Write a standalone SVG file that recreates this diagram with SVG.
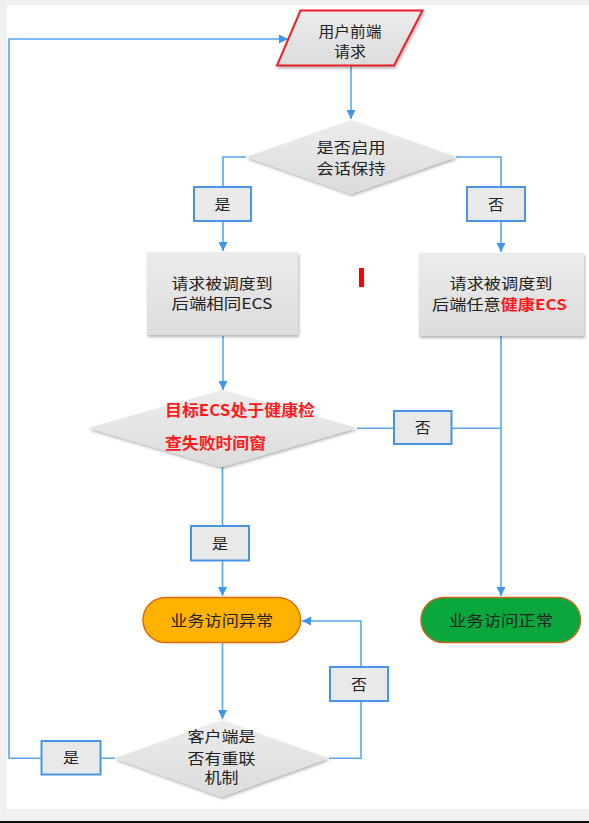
<svg xmlns="http://www.w3.org/2000/svg" width="589" height="823" viewBox="0 0 589 823">
<style>
.t{font-family:"Microsoft YaHei","Noto Sans CJK SC","Noto Sans",sans-serif;font-size:15px;fill:#222;text-anchor:middle}
.r{fill:#ff1a1a;font-weight:bold;text-anchor:start;font-size:15.5px}
.line{fill:none;stroke:#5aa6f2;stroke-width:1.6}
.lbl{fill:#e9e9e9;stroke:#4a94e8;stroke-width:2}
.gray{fill:url(#g);filter:url(#sh)}
</style>
<defs>
<linearGradient id="g" x1="0" y1="0" x2="0" y2="1">
<stop offset="0" stop-color="#ececec"/>
<stop offset="1" stop-color="#dcdcdc"/>
</linearGradient>
<filter id="sh" x="-10%" y="-10%" width="125%" height="130%">
<feDropShadow dx="1" dy="2" stdDeviation="1.5" flood-color="#000" flood-opacity="0.3"/>
</filter>
<marker id="a" viewBox="0 0 10 10" refX="10" refY="5" markerWidth="9" markerHeight="9" markerUnits="userSpaceOnUse" orient="auto">
<path d="M0 0 L10 5 L0 10 Z" fill="#3d95ee"/>
</marker>
</defs>
<rect x="0" y="0" width="589" height="823" fill="#f0f0f0"/>
<rect x="7" y="5" width="582" height="804" fill="#ffffff"/>
<rect x="0" y="821" width="589" height="2" fill="#111"/>

<g id="connectors">
<path class="line" d="M115 758.3 H9 V39 H288" marker-end="url(#a)"/>
<path class="line" d="M351 66 V119" marker-end="url(#a)"/>
<path class="line" d="M246 157 H223 V251" marker-end="url(#a)"/>
<path class="line" d="M456 157 H501 V252" marker-end="url(#a)"/>
<path class="line" d="M223 336 V390" marker-end="url(#a)"/>
<path class="line" d="M222.5 467 V596" marker-end="url(#a)"/>
<path class="line" d="M357 428.3 H501"/>
<path class="line" d="M501 336 V596" marker-end="url(#a)"/>
<path class="line" d="M222.5 643 V719" marker-end="url(#a)"/>
<path class="line" d="M329 758.3 H361 V621 H302" marker-end="url(#a)"/>
</g>

<g id="start">
<polygon points="300.5,10.5 422.5,10.5 394,65.5 277,65.5" class="gray" stroke="#e8232a" stroke-width="2"/>
<text class="t" x="350" y="37" textLength="63" lengthAdjust="spacingAndGlyphs">用户前端</text>
<text class="t" x="350" y="57" textLength="32" lengthAdjust="spacingAndGlyphs">请求</text>
</g>

<g id="decision-session">
<polygon points="351,120 456.5,157 351,194 246,157" class="gray"/>
<text class="t" x="351" y="152.5" textLength="69" lengthAdjust="spacingAndGlyphs">是否启用</text>
<text class="t" x="351" y="173.5" textLength="69" lengthAdjust="spacingAndGlyphs">会话保持</text>
</g>

<g id="label-yes-1">
<rect class="lbl" x="194" y="187" width="57" height="34"/>
<text class="t" x="222.5" y="209.5" textLength="16" lengthAdjust="spacingAndGlyphs">是</text>
</g>
<g id="label-no-1">
<rect class="lbl" x="467" y="187" width="58" height="34"/>
<text class="t" x="496" y="209.5" textLength="16" lengthAdjust="spacingAndGlyphs">否</text>
</g>

<g id="same-ecs">
<rect x="147" y="252" width="151" height="83" class="gray"/>
<text class="t" x="222" y="288.5" textLength="101" lengthAdjust="spacingAndGlyphs">请求被调度到</text>
<text class="t" x="222" y="308.5" textLength="101" lengthAdjust="spacingAndGlyphs">后端相同ECS</text>
</g>

<rect id="cursor" x="359" y="268" width="5" height="19" fill="#ff0000"/>

<g id="any-healthy-ecs">
<rect x="419" y="253" width="165" height="83" class="gray"/>
<text class="t" x="501" y="288.5" textLength="103" lengthAdjust="spacingAndGlyphs">请求被调度到</text>
<text class="t" x="432" y="309.5" style="text-anchor:start" textLength="135" lengthAdjust="spacingAndGlyphs">后端任意<tspan fill="#ff1a1a" font-weight="bold">健康ECS</tspan></text>
</g>

<g id="decision-health">
<polygon points="221.5,390 357,428 221.5,467 88,428" class="gray"/>
<text class="t r" x="165" y="415.5" textLength="150" lengthAdjust="spacingAndGlyphs">目标ECS处于健康检</text>
<text class="t r" x="165" y="448.5" textLength="101" lengthAdjust="spacingAndGlyphs">查失败时间窗</text>
</g>

<g id="label-no-2">
<rect class="lbl" x="394" y="411" width="57.5" height="33"/>
<text class="t" x="422.7" y="433" textLength="16" lengthAdjust="spacingAndGlyphs">否</text>
</g>

<g id="label-yes-2">
<rect class="lbl" x="191" y="526" width="58" height="34.5"/>
<text class="t" x="220" y="549" textLength="16" lengthAdjust="spacingAndGlyphs">是</text>
</g>

<g id="abnormal">
<rect x="143" y="597.5" width="157.5" height="45" rx="22.5" fill="#ffb300" stroke="#e0690a" stroke-width="1.5"/>
<text class="t" x="221.7" y="625.5" textLength="103" lengthAdjust="spacingAndGlyphs">业务访问异常</text>
</g>

<g id="normal">
<rect x="421" y="597.5" width="159.5" height="45" rx="22.5" fill="#0aa73c" stroke="#c8691e" stroke-width="1.5"/>
<text class="t" x="501" y="625.5" textLength="104" lengthAdjust="spacingAndGlyphs">业务访问正常</text>
</g>

<g id="decision-reconnect">
<polygon points="221.5,720 328.5,758.3 221.5,797 114.5,758.3" class="gray"/>
<text class="t" x="221.5" y="742" textLength="68" lengthAdjust="spacingAndGlyphs">客户端是</text>
<text class="t" x="221.5" y="763.5" textLength="68" lengthAdjust="spacingAndGlyphs">否有重联</text>
<text class="t" x="221.5" y="782.5" textLength="34" lengthAdjust="spacingAndGlyphs">机制</text>
</g>

<g id="label-no-3">
<rect class="lbl" x="330" y="667" width="58" height="34"/>
<text class="t" x="359" y="689.5" textLength="16" lengthAdjust="spacingAndGlyphs">否</text>
</g>

<g id="label-yes-3">
<rect class="lbl" x="41.5" y="741" width="59" height="33.5"/>
<text class="t" x="71" y="763" textLength="16" lengthAdjust="spacingAndGlyphs">是</text>
</g>
</svg>
